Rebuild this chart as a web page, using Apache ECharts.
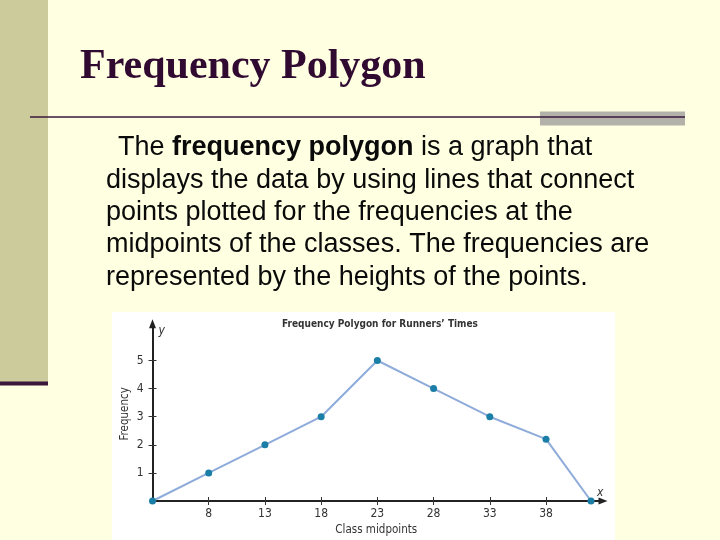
<!DOCTYPE html>
<html><head><meta charset="utf-8">
<script src="https://cdn.jsdelivr.net/npm/echarts@6/dist/echarts.min.js"></script>
<style>html,body{margin:0;padding:0;background:#FFFFE1}#c{width:720px;height:540px}</style>
</head><body><div id="c"></div>
<script>
// ---- data ----
const slideTitle = 'Frequency Polygon';
const introNormal = 'The ';
const introBold = 'frequency polygon';
const introRest = ' is a graph that';
const paragraphLines = [
  'displays the data by using lines that connect',
  'points plotted for the frequencies at the',
  'midpoints of the classes. The frequencies are',
  'represented by the heights of the points.'
];
const chartTitle = "Frequency Polygon for Runners\u2019 Times";
const midpoints = [3, 8, 13, 18, 23, 28, 33, 38, 42];
const frequencies = [0, 1, 2, 3, 5, 4, 3, 2.2, 0];
const xTickValues = [8, 13, 18, 23, 28, 33, 38];
const yTickValues = [1, 2, 3, 4, 5];
const xAxisName = 'Class midpoints';
const yAxisName = 'Frequency';
const xArrowName = 'x';
const yArrowName = 'y';

// ---- chart ----
const chart = echarts.init(document.getElementById('c'), null, {renderer: 'canvas'});
const narrow = "'Liberation Sans Narrow', 'DejaVu Sans Condensed', sans-serif";
const sans = "'Liberation Sans', Arial, sans-serif";
const paraFs = 27, paraX = 106, paraBase0 = 157, paraStep = 32.4;

const graphicEls = [
  {type: 'rect', shape: {x: 0, y: 0, width: 48, height: 382}, style: {fill: '#CBCB9B'}, z: -10},
  {type: 'rect', shape: {x: 0, y: 381.5, width: 48, height: 4}, style: {fill: '#3B173B'}, z: -10},
  {type: 'rect', shape: {x: 540, y: 111.5, width: 145, height: 14}, style: {fill: '#B2B2AA'}, z: -10},
  {type: 'line', shape: {x1: 30, y1: 117, x2: 685, y2: 117}, style: {stroke: '#3B173B', lineWidth: 1.5}, z: -9},
  {type: 'text', x: 80, y: 81 - 0.33 * 42, style: {
    text: slideTitle, font: "bold 42px 'Liberation Serif', 'Times New Roman', serif",
    fill: '#300A30', verticalAlign: 'middle', align: 'left'}, z: -9},
  {type: 'text', x: 118, y: paraBase0 - 0.34 * paraFs, style: {
    text: '{n|' + introNormal + '}{b|' + introBold + '}{n|' + introRest + '}',
    verticalAlign: 'middle', align: 'left',
    rich: {
      n: {fontFamily: sans, fontSize: paraFs, fill: '#0A0A0A', lineHeight: paraFs},
      b: {fontFamily: sans, fontSize: paraFs, fontWeight: 'bold', fill: '#0A0A0A', lineHeight: paraFs}
    }}, z: -9},
  {type: 'rect', shape: {x: 112, y: 312, width: 503, height: 228}, style: {fill: '#FFFFFF'}, z: -10}
];
paragraphLines.forEach((t, i) => {
  graphicEls.push({type: 'text', x: paraX, y: paraBase0 + (i + 1) * paraStep - 0.34 * paraFs,
    style: {text: t, font: paraFs + 'px ' + sans, fill: '#0A0A0A', verticalAlign: 'middle', align: 'left'}, z: -9});
});

const gridLeft = 152.5, gridBottom = 39, gridTop = 326.8, gridRight = 120;

const option = {
  backgroundColor: '#FFFFE1',
  animation: false,
  title: {
    text: chartTitle, left: 375, top: 314, textAlign: 'center',
    textStyle: {fontFamily: narrow, fontSize: 10, fontWeight: 'bold', color: '#333'}
  },
  graphic: {elements: graphicEls},
  grid: {left: gridLeft, right: gridRight, top: gridTop, bottom: gridBottom, containLabel: false},
  xAxis: [{
    type: 'value', min: 3, max: 42.8, position: 'bottom',
    name: xAxisName, nameLocation: 'middle', nameGap: 23, nameMoveOverlap: false,
    nameTextStyle: {fontFamily: narrow, fontSize: 11.5, color: '#333'},
    axisLine: {onZero: false, lineStyle: {color: '#222', width: 2}, symbol: ['none', 'triangle'], symbolSize: [7, 9], symbolOffset: [0, 3]},
    axisTick: {show: true, length: 4, lineStyle: {color: '#333', width: 1}, customValues: xTickValues},
    axisLabel: {customValues: xTickValues, margin: 7, fontFamily: narrow, fontSize: 12, color: '#333'},
    splitLine: {show: false}
  }, {
    type: 'value', min: 3, max: 42.8, position: 'bottom',
    name: xArrowName, nameLocation: 'end', nameGap: -3,
    nameTextStyle: {fontFamily: narrow, fontSize: 12, fontStyle: 'italic', color: '#333', verticalAlign: 'bottom', padding: [0, 0, 2, 0]},
    axisLine: {show: false, onZero: false},
    axisTick: {show: true, inside: true, length: 4, lineStyle: {color: '#333', width: 1}, customValues: xTickValues},
    axisLabel: {show: false},
    splitLine: {show: false}
  }],
  yAxis: [{
    type: 'value', min: 0, max: 6.2, position: 'left',
    name: yAxisName, nameLocation: 'middle', nameGap: 21, nameRotate: 90, nameMoveOverlap: false,
    nameTextStyle: {fontFamily: narrow, fontSize: 11.5, color: '#333'},
    axisLine: {show: true, onZero: false, lineStyle: {color: '#222', width: 2}, symbol: ['none', 'triangle'], symbolSize: [7, 9], symbolOffset: [0, 3]},
    axisTick: {show: true, length: 4, lineStyle: {color: '#333', width: 1}, customValues: yTickValues},
    axisLabel: {customValues: yTickValues, margin: 9, fontFamily: narrow, fontSize: 12, color: '#333'},
    splitLine: {show: false}
  }, {
    type: 'value', min: 0, max: 6.2, position: 'left',
    name: yArrowName, nameLocation: 'end', nameGap: -4,
    nameTextStyle: {fontFamily: narrow, fontSize: 12, fontStyle: 'italic', color: '#333', align: 'left', verticalAlign: 'middle', padding: [0, 0, 4, 6]},
    axisLine: {show: false, onZero: false},
    axisTick: {show: true, inside: true, length: 4, lineStyle: {color: '#333', width: 1}, customValues: yTickValues},
    axisLabel: {show: false},
    splitLine: {show: false}
  }],
  series: [{
    type: 'line',
    data: midpoints.map((m, i) => [m, frequencies[i]]),
    clip: false,
    symbol: 'circle', symbolSize: 7,
    lineStyle: {color: '#8EABDA', width: 2},
    itemStyle: {color: '#1A7EA6', borderWidth: 0},
    z: 5
  }]
};
chart.setOption(option);
</script>
</body></html>
